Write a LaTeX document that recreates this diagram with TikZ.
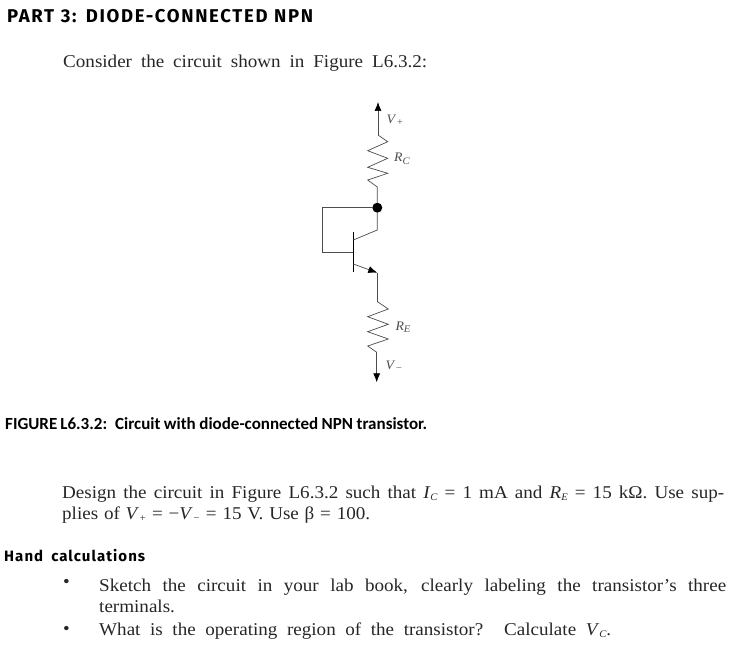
\documentclass[tikz,border=0pt]{standalone}
\usepackage{fontspec}
\setmainfont[FakeStretch=1.06]{Liberation Serif}
\newfontfamily\headfont[LetterSpace=9]{Fira Sans Bold}
\newfontfamily\subheadfont[LetterSpace=7]{Fira Sans Bold}
\newfontfamily\capfont{Carlito Bold}
\usetikzlibrary{arrows.meta, positioning}

\newcommand{\qty}[2]{\textit{#1}\raisebox{-2.5pt}{\fontsize{10}{10}\selectfont\textit{#2}}}

\tikzset{
    wire/.style={draw=black!70, line width=0.7pt},
    lead/.style={wire, -{Latex[length=9pt,width=7pt,black]}},
    bodytext/.style={anchor=base west, inner sep=0pt, font=\fontsize{18}{20}\selectfont, text=black!85},
    partlabel/.style={inner sep=0pt, font=\fontsize{13}{15}\selectfont, text=black!70}
}

\begin{document}
\begin{tikzpicture}[x=1pt, y=-1pt]
    \useasboundingbox (0,0) rectangle (733,647);

    % Headings and text
    \node[bodytext, font=\fontsize{18.5}{20}\headfont, text=black] (title) at (7,23) {\makebox[306pt][s]{PART 3: DIODE-CONNECTED NPN}};
    \node[bodytext] (intro) at (63,68) {\makebox[364pt][s]{Consider the circuit shown in Figure L6.3.2:}};
    \node[bodytext, font=\fontsize{17}{16}\capfont, text=black] (figlabel) at (5,429) {\makebox[102pt][s]{FIGURE L6.3.2:}};
    \node[bodytext, font=\fontsize{17}{16}\capfont, text=black] (caption) at (115,429) {\makebox[312pt][s]{Circuit with diode-connected NPN transistor.}};
    \node[bodytext] (design) at (62,498) {\makebox[662pt][s]{Design the circuit in Figure L6.3.2 such that \qty{I}{C} = 1 mA and \qty{R}{E} = 15 kΩ. Use sup-}};
    \node[bodytext] (supplies) at (62,519) {\makebox[308pt][s]{plies of \qty{V}{+} = −\qty{V}{−} = 15 V. Use β = 100.}};
    \node[bodytext, font=\fontsize{15}{16}\subheadfont, text=black] (hand) at (4,561) {\makebox[141pt][s]{Hand calculations}};
    \node[bodytext] (sketch) at (99,591) {\makebox[627pt][s]{Sketch the circuit in your lab book, clearly labeling the transistor's three}};
    \node[bodytext] (terminals) at (99,612) {\makebox[82pt][s]{terminals.}};
    \node[bodytext] (operating) at (99,635) {\makebox[512pt][s]{What is the operating region of the transistor? Calculate \qty{V}{C}.}};
    \node[bodytext] (bulletA) at (63,587) {•};
    \node[bodytext] (bulletB) at (63,634) {•};

    % Circuit points
    \coordinate (vplus) at (378,102);
    \coordinate (rctop) at (378,135);
    \coordinate (rcbot) at (377.3,187);
    \node[circle, fill=black, inner sep=0pt, minimum size=10pt] (collnode) at (377.3,207.7) {};
    \coordinate (loopa) at (322.3,207.7);
    \coordinate (loopb) at (322.3,252.3);
    \coordinate (basept) at (353.3,252.3);
    \coordinate (bartop) at (353.3,231.7);
    \coordinate (barbot) at (353.3,271.7);
    \coordinate (collin) at (353.3,240);
    \coordinate (collout) at (377.3,230);
    \coordinate (emitin) at (353.3,264);
    \coordinate (emitout) at (377.3,272.7);
    \coordinate (retop) at (377.3,301.7);
    \coordinate (rebot) at (376.7,352.3);
    \coordinate (vminus) at (376.7,382.3);

    % Supply leads and resistors
    \draw[lead] (rctop) -- (vplus);
    \draw[wire] (rctop) -- (387.7,141.7) -- (367.7,150.7) -- (387.7,158.3) -- (367.7,167.3)
        -- (387.7,173.3) -- (367.7,180) -- (rcbot) -- (collnode);
    \draw[wire] (retop) -- (388.3,309) -- (367.7,316.7) -- (388.3,324.3) -- (367.7,331.7)
        -- (388.3,339) -- (367.7,346) -- (rebot);
    \draw[lead] (rebot) -- (vminus);

    % Transistor with its base tied to the collector
    \draw[wire] (collnode) -- (loopa) -- (loopb) -- (basept);
    \draw[black, line width=1pt] (bartop) -- (barbot);
    \draw[wire] (collnode) -- (collout) -- (collin);
    \draw[lead] (emitin) -- (emitout);
    \draw[wire] (emitout) -- (retop);

    % Labels
    \node[partlabel] (vplustxt) at (395,120) {\qty{V}{+}};
    \node[partlabel] (rctxt) at (402,159) {\qty{R}{C}};
    \node[partlabel] (retxt) at (403,327) {\qty{R}{E}};
    \node[partlabel] (vminustxt) at (394,366) {\qty{V}{−}};
\end{tikzpicture}
\end{document}
